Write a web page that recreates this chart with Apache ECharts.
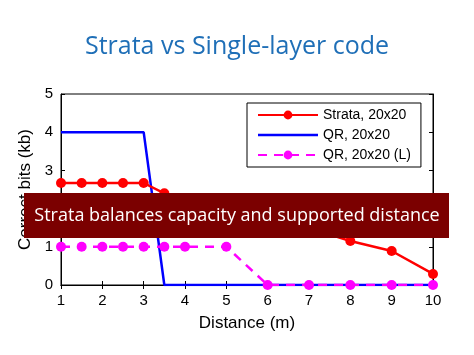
<!DOCTYPE html>
<html>
<head>
<meta charset="utf-8">
<script src="https://cdn.jsdelivr.net/npm/echarts@6/dist/echarts.min.js"></script>
<style>
  html, body { margin: 0; padding: 0; background: #fff; }
  #container { width: 474px; height: 355px; }
</style>
</head>
<body>
<div id="container"></div>
<script>
// values
var strataX = [1, 1.5, 2, 2.5, 3, 3.5, 4, 5, 6, 7, 8, 9, 10];
var strataY = [2.67, 2.67, 2.67, 2.67, 2.67, 2.4, 2.25, 2.0, 1.75, 1.5, 1.15, 0.89, 0.29];
var qrX = [1, 3, 3.5, 10];
var qrY = [4, 4, 0, 0];
var qrLX = [1, 1.5, 2, 2.5, 3, 3.5, 4, 5, 6, 7, 8, 9, 10];
var qrLY = [1, 1, 1, 1, 1, 1, 1, 1, 0, 0, 0, 0, 0];
var seriesNames = ['Strata, 20x20', 'QR, 20x20', 'QR, 20x20 (L)'];

function pairs(xs, ys) {
    var out = [];
    for (var i = 0; i < xs.length; i++) out.push([xs[i], ys[i]]);
    return out;
}

var dom = document.getElementById('container');
var myChart = echarts.init(dom, null, { renderer: 'canvas' });

var tickFont = { fontFamily: 'Liberation Sans', fontSize: 15, color: '#000' };
// plain line for the legend of the series without markers
var lineIcon = 'path://M0,0L0,0ZM0,4.3L60,4.3L60,6.7L0,6.7ZM60,11L60,11Z';

var option = {
    backgroundColor: '#fff',
    animation: false,
    title: {
        text: 'Strata vs Single-layer code',
        left: 'center',
        top: 29,
        textStyle: {
            fontFamily: 'Open Sans',
            fontWeight: 'normal',
            fontSize: 25,
            color: '#1f6fb7'
        }
    },
    grid: {
        left: 61,
        right: 41,
        top: 94,
        bottom: 70,
        show: true,
        borderColor: '#000',
        borderWidth: 1
    },
    legend: {
        orient: 'vertical',
        left: 247,
        top: 103,
        padding: [5, 10, 5, 10],
        itemWidth: 60,
        itemHeight: 11,
        itemGap: 6,
        backgroundColor: '#fff',
        borderColor: '#000',
        borderWidth: 1,
        borderRadius: 0,
        textStyle: { fontFamily: 'Liberation Sans', fontSize: 14, color: '#000' },
        data: [
            { name: seriesNames[0] },
            { name: seriesNames[1], icon: lineIcon },
            { name: seriesNames[2] }
        ]
    },
    xAxis: [{
        type: 'value',
        min: 1,
        max: 10,
        interval: 1,
        name: 'Distance (m)',
        nameLocation: 'middle',
        nameGap: 30,
        nameTextStyle: { fontFamily: 'Liberation Sans', fontSize: 17, color: '#000' },
        axisLine: { show: true, lineStyle: { color: '#000', width: 1 } },
        axisTick: { inside: true, length: 4, lineStyle: { color: '#000' } },
        axisLabel: Object.assign({ margin: 8 }, tickFont),
        splitLine: { show: false }
    }, {
        type: 'value',
        position: 'top',
        min: 1,
        max: 10,
        interval: 1,
        axisLine: { show: true, lineStyle: { color: '#000' } },
        axisTick: { inside: true, length: 4, lineStyle: { color: '#000' } },
        axisLabel: { show: false },
        splitLine: { show: false }
    }],
    yAxis: [{
        type: 'value',
        min: 0,
        max: 5,
        interval: 1,
        name: 'Correct bits (kb)',
        nameLocation: 'middle',
        nameGap: 27,
        nameTextStyle: { fontFamily: 'Liberation Sans', fontSize: 17, color: '#000' },
        axisLine: { show: true, lineStyle: { color: '#000', width: 1 } },
        axisTick: { inside: true, length: 4, lineStyle: { color: '#000' } },
        axisLabel: Object.assign({ margin: 8 }, tickFont),
        splitLine: { show: false }
    }, {
        type: 'value',
        position: 'right',
        min: 0,
        max: 5,
        interval: 1,
        axisLine: { show: true, lineStyle: { color: '#000' } },
        axisTick: { inside: true, length: 4, lineStyle: { color: '#000' } },
        axisLabel: { show: false },
        splitLine: { show: false }
    }],
    series: [{
        name: seriesNames[0],
        type: 'line',
        data: pairs(strataX, strataY),
        symbol: 'circle',
        symbolSize: 10,
        color: '#ff0000',
        lineStyle: { width: 2.5, color: '#ff0000' },
        itemStyle: { color: '#ff0000' },
        z: 3
    }, {
        name: seriesNames[1],
        type: 'line',
        data: pairs(qrX, qrY),
        symbol: 'none',
        color: '#0000ff',
        lineStyle: { width: 2.5, color: '#0000ff' },
        itemStyle: { color: '#0000ff' },
        z: 2
    }, {
        name: seriesNames[2],
        type: 'line',
        data: pairs(qrLX, qrLY),
        symbol: 'circle',
        symbolSize: 10,
        color: '#ff00ff',
        lineStyle: { width: 2.5, color: '#ff00ff', type: [9, 7] },
        itemStyle: { color: '#ff00ff' },
        z: 4
    }],
    graphic: [{
        type: 'rect',
        left: 24,
        top: 193,
        shape: { width: 425, height: 45 },
        style: { fill: '#7b0000' },
        z: 100
    }, {
        type: 'text',
        x: 237,
        y: 215.5,
        style: {
            text: 'Strata balances capacity and supported distance',
            fill: '#fff',
            font: '18px "Open Sans"',
            align: 'center',
            verticalAlign: 'middle'
        },
        z: 101
    }]
};

myChart.setOption(option);
</script>
</body>
</html>
